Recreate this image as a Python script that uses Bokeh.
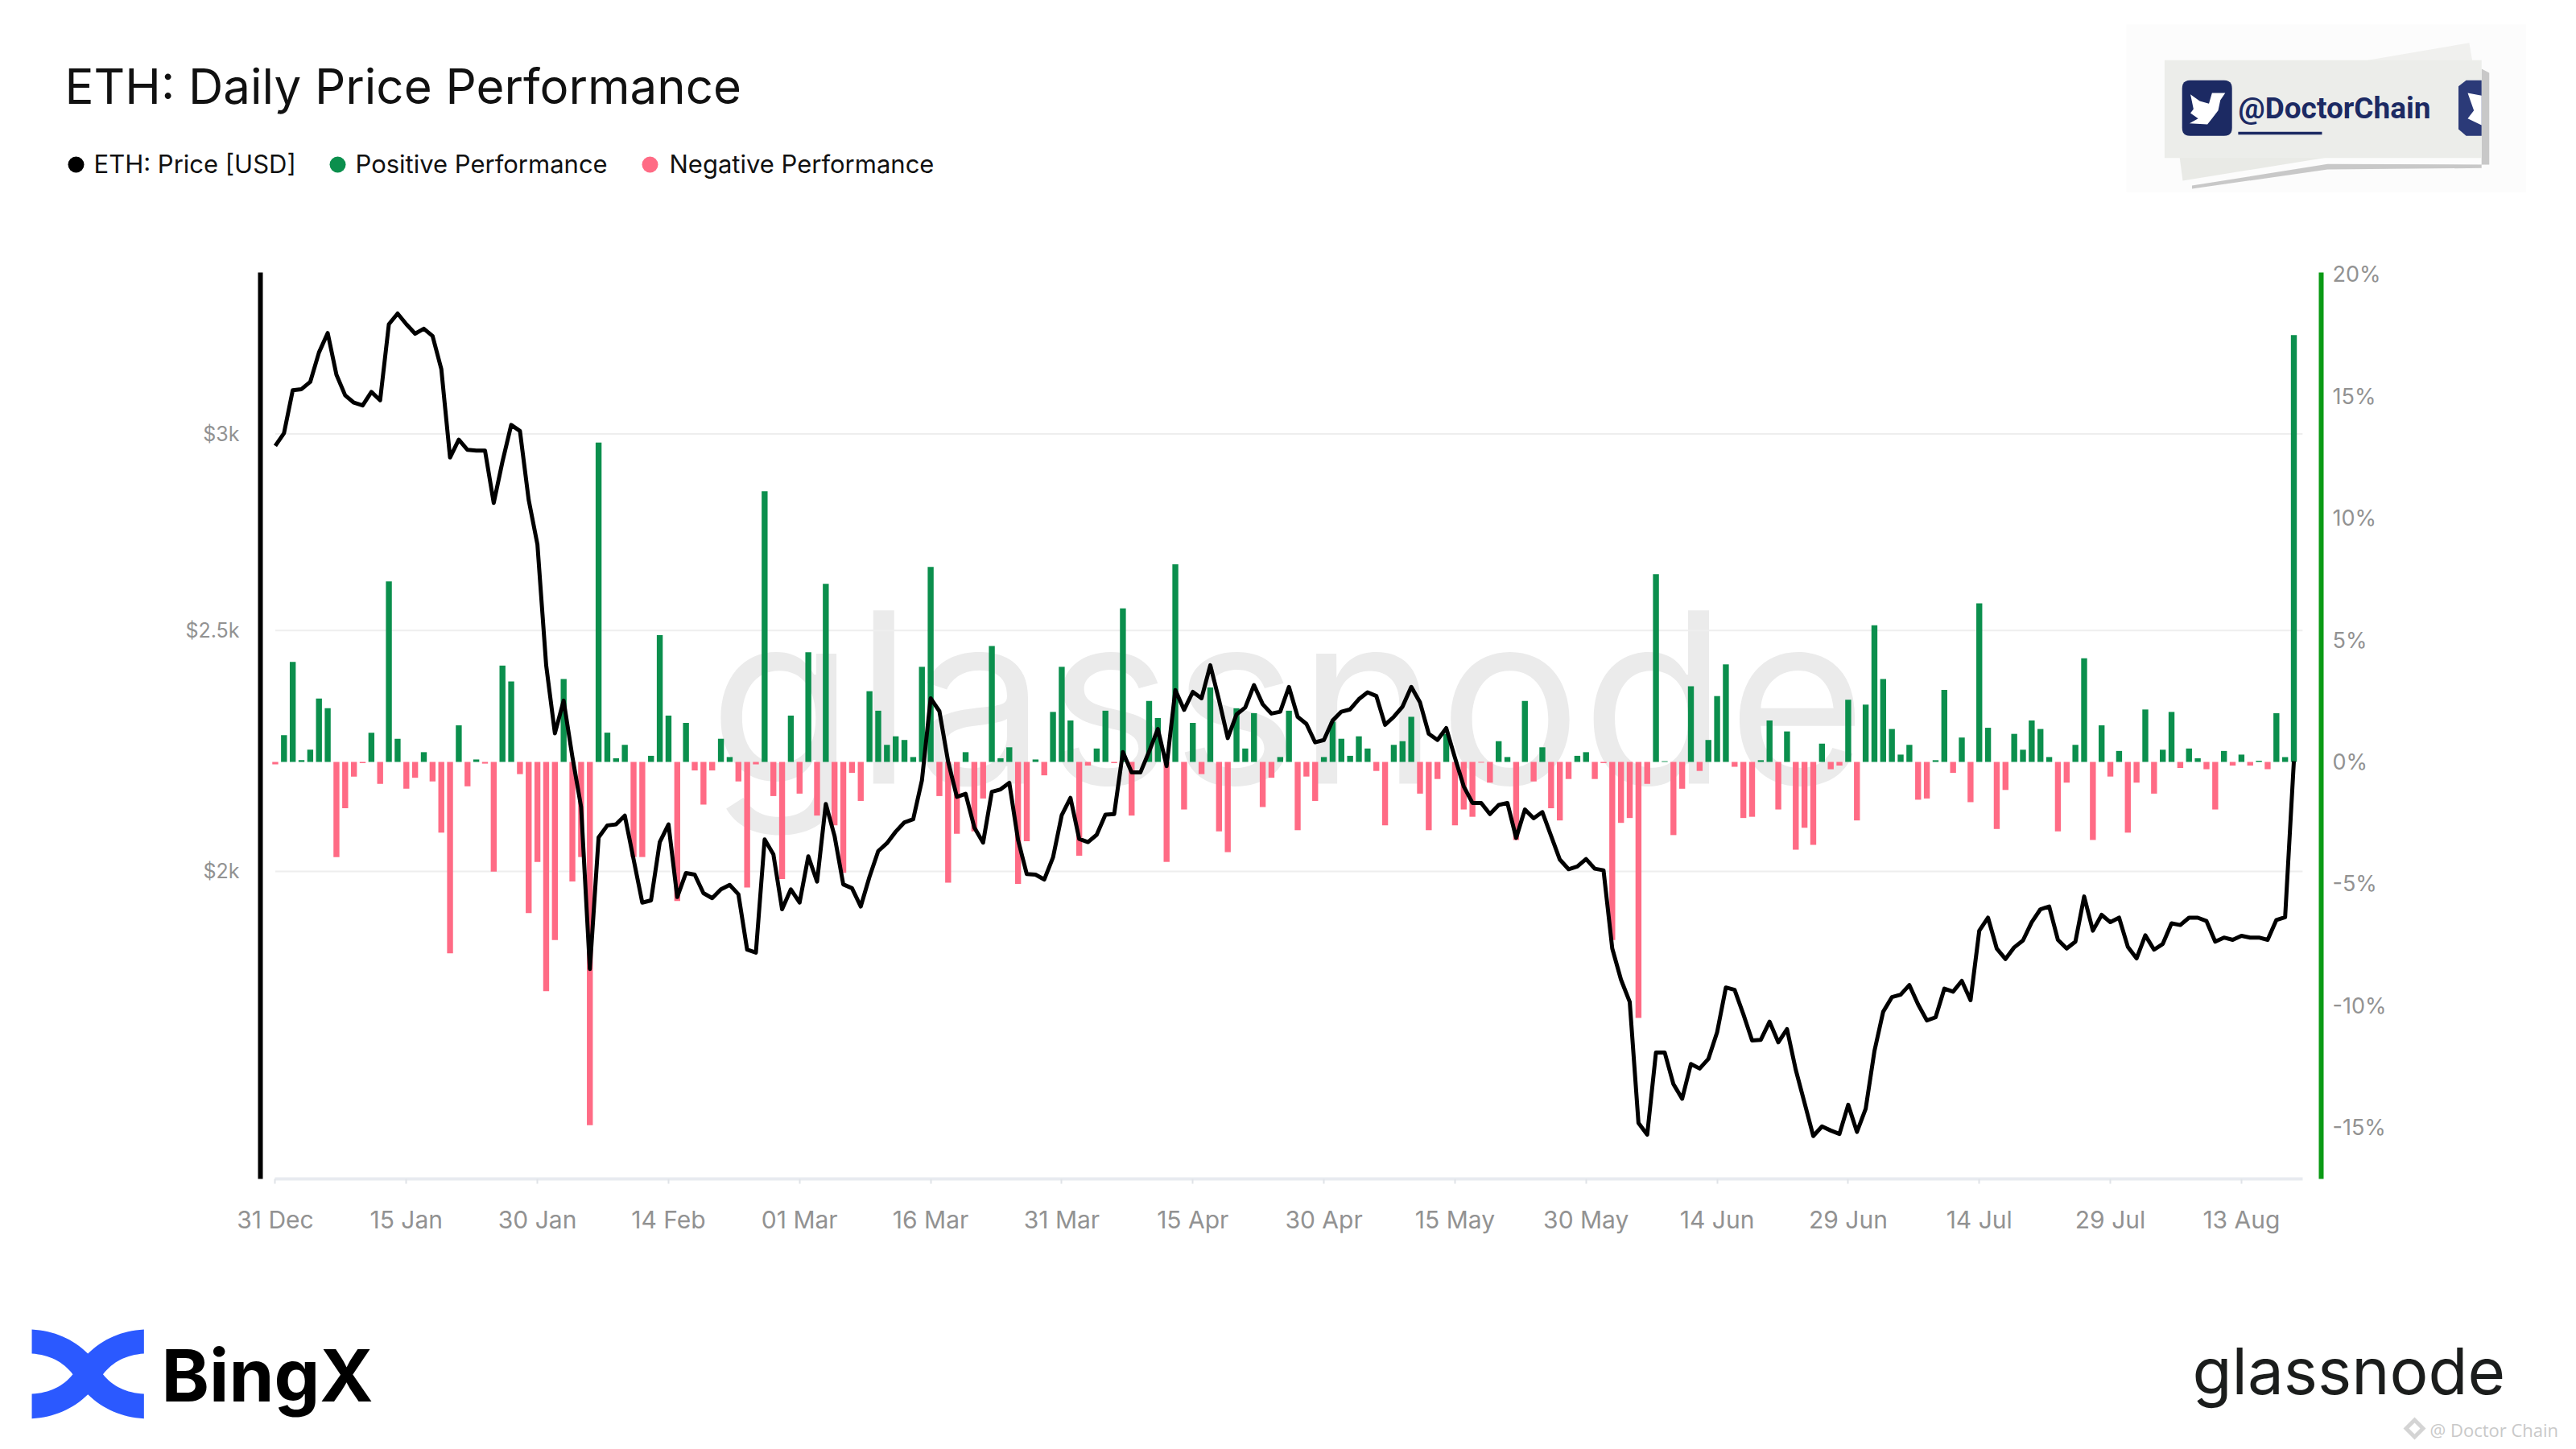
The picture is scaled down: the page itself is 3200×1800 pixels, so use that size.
from bokeh.plotting import figure
from bokeh.layouts import column
from bokeh.embed import file_html
from bokeh.resources import INLINE
from bokeh.core.properties import value
from bokeh.models import Range1d, LinearScale, LinearAxis, FixedTicker

TITLE = "ETH: Daily Price Performance"
SERIES = ["ETH: Price [USD]", "Positive Performance", "Negative Performance"]

price = [
    2967,3002,3124,3127,3148,3235,3294,3169,3109,3088,
    3080,3119,3095,3321,3354,3321,3292,3307,3285,3186,
    2935,2984,2956,2954,2954,2814,2924,3025,3008,2822,
    2708,2421,2273,2343,2224,2123,1827,2064,2087,2089,
    2106,2023,1943,1947,2055,2089,1953,1997,1994,1960,
    1951,1967,1975,1958,1860,1855,2060,2032,1931,1967,
    1943,2028,1981,2129,2067,1976,1969,1936,1990,2038,
    2053,2075,2093,2099,2176,2348,2320,2214,2143,2149,
    2083,2054,2153,2158,2171,2059,1995,1994,1985,2026,
    2107,2141,2061,2055,2069,2108,2109,2234,2192,2192,
    2235,2282,2205,2366,2323,2362,2348,2421,2344,2263,
    2313,2328,2377,2335,2315,2319,2373,2308,2293,2254,
    2259,2300,2319,2324,2346,2361,2353,2291,2308,2330,
    2373,2339,2272,2259,2284,2222,2164,2131,2131,2109,
    2127,2131,2063,2118,2101,2113,2067,2022,2004,2009,
    2023,2005,2002,1862,1809,1772,1584,1567,1691,1691,
    1642,1620,1673,1666,1681,1723,1796,1792,1752,1710,
    1711,1740,1707,1728,1664,1614,1565,1579,1573,1568,
    1611,1571,1605,1693,1756,1780,1784,1800,1768,1742,
    1747,1794,1789,1807,1775,1893,1916,1862,1844,1864,
    1876,1908,1931,1936,1877,1862,1874,1954,1893,1921,
    1908,1916,1865,1845,1885,1860,1870,1906,1903,1916,
    1916,1910,1874,1881,1877,1884,1881,1881,1877,1912,
    1917,2215,
]

performance = [
    -0.1,1.1,4.1,0.07,0.5,2.6,2.2,-3.9,-1.9,-0.6,
    -0.05,1.2,-0.9,7.4,0.95,-1.1,-0.65,0.4,-0.8,-2.9,
    -7.85,1.5,-1.0,0.1,-0.07,-4.5,3.95,3.3,-0.5,-6.2,
    -4.1,-9.4,-7.3,3.4,-4.9,-3.9,-14.9,13.1,1.2,0.15,
    0.7,-3.9,-3.9,0.25,5.2,1.9,-5.7,1.6,-0.35,-1.75,
    -0.35,0.95,0.2,-0.8,-5.15,-0.1,11.1,-1.4,-4.8,1.9,
    -1.3,4.5,-2.2,7.3,-2.6,-4.55,-0.45,-1.6,2.9,2.1,
    0.7,1.05,0.9,0.2,3.9,8.0,-1.4,-4.95,-2.95,0.4,
    -2.85,-1.5,4.75,0.15,0.6,-5.0,-3.25,0.1,-0.55,2.05,
    3.9,1.7,-3.85,-0.15,0.55,2.1,-0.05,6.3,-2.2,0.0,
    2.5,1.8,-4.1,8.1,-1.95,1.6,-0.5,3.05,-2.85,-3.7,
    2.2,0.55,2.0,-1.85,-0.65,0.2,2.1,-2.8,-0.6,-1.6,
    0.2,1.65,0.95,0.25,1.05,0.55,-0.37,-2.6,0.7,0.85,
    1.85,-1.3,-2.8,-0.7,1.15,-2.6,-1.95,-2.25,-0.03,-0.85,
    0.85,0.2,-3.2,2.5,-0.8,0.6,-1.9,-2.4,-0.7,0.25,
    0.4,-0.7,-0.05,-7.3,-2.5,-2.3,-10.5,-0.9,7.7,0.03,
    -3.0,-1.1,3.1,-0.37,0.9,2.7,4.0,-0.2,-2.3,-2.25,
    0.07,1.7,-1.95,1.25,-3.6,-2.7,-3.4,0.75,-0.3,-0.15,
    2.55,-2.4,2.35,5.6,3.4,1.35,0.3,0.7,-1.55,-1.5,
    0.07,2.95,-0.45,1.0,-1.65,6.5,1.4,-2.75,-1.15,1.15,
    0.5,1.7,1.35,0.2,-2.85,-0.85,0.7,4.25,-3.2,1.5,
    -0.6,0.45,-2.9,-0.85,2.15,-1.3,0.5,2.05,-0.25,0.55,
    0.15,-0.3,-1.95,0.45,-0.15,0.3,-0.15,0.05,-0.3,2.0,
    0.2,17.5,
]

date_ticks = [0, 15, 30, 45, 60, 75, 90, 105, 120, 135, 150, 165, 180, 195, 210, 225]
date_labels = ["31 Dec", "15 Jan", "30 Jan", "14 Feb", "01 Mar", "16 Mar", "31 Mar", "15 Apr",
               "30 Apr", "15 May", "30 May", "14 Jun", "29 Jun", "14 Jul", "29 Jul", "13 Aug"]
price_ticks = [2000, 2500, 3000]
price_labels = ["$2k", "$2.5k", "$3k"]
pct_ticks = [-15, -10, -5, 0, 5, 10, 15, 20]
pct_labels = ["-15%", "-10%", "-5%", "0%", "5%", "10%", "15%", "20%"]

BLACK, GREEN, PINK = "#000000", "#0b8f4d", "#ff6b85"
AXIS_GREEN = "#0a9a14"
TICK = "#929292"
FONT = "Inter"
W = 3190

days = list(range(len(price)))
pos = [(d, v) for d, v in zip(days, performance) if v >= 0]
neg = [(d, v) for d, v in zip(days, performance) if v < 0]


def strip(y0, y1):
    f = figure(width=W, height=y1 - y0, x_range=Range1d(0, W), y_range=Range1d(y1, y0),
               toolbar_location=None, output_backend="svg", min_border=0, frame_align=False,
               outline_line_color=None, background_fill_color="white", border_fill_color="white")
    f.axis.visible = False
    f.grid.visible = False
    return f


def poly(f, pts, color, alpha=1.0):
    f.patch([a for a, _ in pts], [b for _, b in pts], fill_color=color, fill_alpha=alpha, line_color=None)


def write(f, x, y, s, size, color, font=FONT, style="normal"):
    f.text([x], [y - 0.38 * size], text=[s], text_color=color, text_font=value(font), text_font_size=f"{size}px",
           text_font_style=style, text_baseline="alphabetic", text_align="left")


def bez(a, c, b, n=16):
    return [((1-t)**2*a[0]+2*(1-t)*t*c[0]+t*t*b[0], (1-t)**2*a[1]+2*(1-t)*t*c[1]+t*t*b[1])
            for t in [i/n for i in range(n+1)]]


# ---------- header ----------
head = strip(0, 300)
write(head, 80, 129, TITLE, 60, "#111111")
for cx, tx, col, s in [(94, 116, BLACK, SERIES[0]), (419, 441, GREEN, SERIES[1]), (807, 831, PINK, SERIES[2])]:
    head.scatter([cx], [204], size=20, marker="circle", fill_color=col, line_color=None)
    write(head, tx, 215, s, 31, "#111111")


def z6(x, y):
    return 2600 + x/2.613, y/3


PAPER, NAVY = "#ecedea", "#1c2a63"
poly(head, [z6(107,90), z6(1405,90), z6(1405,715), z6(107,715)], "#fcfcfc")
poly(head, [z6(320,690), z6(760,610), z6(1285,612), z6(1285,270), z6(1260,255), z6(1260,625), z6(760,630), z6(320,702)], "#8a8a8a", 0.45)
poly(head, [z6(280,585), z6(290,672), z6(760,585)], "#e9eae6")
poly(head, [z6(880,225), z6(1220,158), z6(1230,225)], "#f0f0ee")
poly(head, [z6(231,223), z6(1260,223), z6(1260,587), z6(231,587)], PAPER)


def rrect(x0, y0, x1, y1, rx=26, ry=30):
    return (bez(z6(x0, y0+ry), z6(x0, y0), z6(x0+rx, y0), 6) + bez(z6(x1-rx, y0), z6(x1, y0), z6(x1, y0+ry), 6) +
            bez(z6(x1, y1-ry), z6(x1, y1), z6(x1-rx, y1), 6) + bez(z6(x0+rx, y1), z6(x0, y1), z6(x0, y1-ry), 6))


poly(head, rrect(288, 298, 450, 505), NAVY)
poly(head, [z6(1210,298), z6(1260,298), z6(1260,505), z6(1210,505), z6(1185,480), z6(1185,320)], "#2b3a78")
bird = [(315,350),(345,375),(375,385),(385,345),(428,345),(412,372),(405,410),(385,440),(370,462),(312,458),(340,440),(315,420),(325,405)]
poly(head, [z6(a, b) for a, b in bird], "#ffffff")
poly(head, [z6(a, b) for a, b in [(1260,355),(1215,345),(1235,410),(1215,440),(1260,465)]], "#ffffff")
write(head, 2780, 148, "@DoctorChain", 37, NAVY, font="Roboto", style="bold")
poly(head, [z6(470,490), z6(742,490), z6(742,500), z6(470,500)], NAVY)

# ---------- chart ----------
p = figure(width=W, height=1260, frame_width=2560, frame_height=1126,
           y_axis_type="log", x_range=Range1d(-1.7, 234.13), y_range=Range1d(1504, 3484),
           toolbar_location=None, output_backend="svg", frame_align=False,
           min_border_left=323, min_border_right=307, min_border_top=38, min_border_bottom=96,
           outline_line_color=None, background_fill_color="white", border_fill_color="white")
p.extra_y_ranges = {"pct": Range1d(-17.1, 20.07)}
p.extra_y_scales = {"pct": LinearScale()}
p.xgrid.visible = False
p.ygrid.visible = False

xa = p.xaxis[0]
xa.ticker = FixedTicker(ticks=date_ticks)
xa.major_label_overrides = dict(zip(date_ticks, date_labels))
xa.bounds = (days[0], days[-1] + 1)
xa.axis_line_color = "#e8ebf0"
xa.axis_line_width = 4
xa.major_tick_line_color = "#e0e3e8"
xa.major_tick_line_width = 2
xa.major_tick_in = 0
xa.major_tick_out = 6
xa.minor_tick_line_color = None
xa.major_label_text_color = TICK
xa.major_label_text_font = FONT
xa.major_label_text_font_size = "30px"
xa.major_label_standoff = 26

ya = p.yaxis[0]
ya.ticker = FixedTicker(ticks=price_ticks)
ya.major_label_overrides = dict(zip(price_ticks, price_labels))
ya.axis_line_color = BLACK
ya.axis_line_width = 6
ya.major_tick_line_color = None
ya.minor_tick_line_color = None
ya.major_label_text_color = TICK
ya.major_label_text_font = FONT
ya.major_label_text_font_size = "25px"
ya.major_label_standoff = 20

ra = LinearAxis(y_range_name="pct", ticker=FixedTicker(ticks=pct_ticks))
ra.major_label_overrides = dict(zip(pct_ticks, pct_labels))
ra.axis_line_color = AXIS_GREEN
ra.axis_line_width = 6
ra.major_tick_line_color = None
ra.minor_tick_line_color = None
ra.major_label_text_color = TICK
ra.major_label_text_font = FONT
ra.major_label_text_font_size = "27px"
ra.major_label_standoff = 8
p.add_layout(ra, "right")

# watermark sits in the plot's own coordinates
p.text([49.6], [2.67], text=["glassnode"], y_range_name="pct", text_color="#ebebeb",
       text_font=value(FONT), text_font_size="296px", text_baseline="alphabetic",
       text_align="left", level="underlay")
p.segment(x0=[days[0]] * 3, x1=[days[-1] + 1] * 3, y0=price_ticks, y1=price_ticks,
          line_color="#eeeeee", line_width=2, level="underlay")

p.vbar(x=[d for d, _ in pos], top=[v for _, v in pos], bottom=0, width=0.68,
       fill_color=GREEN, line_color=None, y_range_name="pct")
p.vbar(x=[d for d, _ in neg], top=0, bottom=[v for _, v in neg], width=0.68,
       fill_color=PINK, line_color=None, y_range_name="pct")
p.line(days, price, line_color=BLACK, line_width=5, line_join="round")

# ---------- footer ----------
foot = strip(1560, 1790)


def z7(x, y):
    return x/2.613, 1600 + y/3


outline = (bez(z7(102,153), z7(210,160), z7(284,243)) + bez(z7(284,243), z7(358,160), z7(466,153)) +
           [z7(466,243)] + bez(z7(466,243), z7(380,250), z7(333,320)) + bez(z7(333,320), z7(380,388), z7(466,393)) +
           [z7(466,485)] + bez(z7(466,485), z7(358,478), z7(284,395)) + bez(z7(284,395), z7(210,478), z7(102,485)) +
           [z7(102,393)] + bez(z7(102,393), z7(188,388), z7(235,320)) + bez(z7(235,320), z7(188,250), z7(102,243)))
poly(foot, outline, "#2b59ff")
write(foot, 200, 1742, "BingX", 90, "#000000", style="bold")
write(foot, 2723, 1732, "glassnode", 80, "#1b1d1c")
write(foot, 3018, 1784, "@ Doctor Chain", 22, "#c9c9c9", font="Open Sans")
dx, dy = 2999, 1774
poly(foot, [(dx-14, dy), (dx, dy-14), (dx+14, dy), (dx, dy+14)], "#d4d4d4")
poly(foot, [(dx-7, dy), (dx, dy-7), (dx+7, dy), (dx, dy+7)], "#ffffff")

page = column(head, p, foot, spacing=0)
page.margin = 0
open("out.html", "w").write(file_html(page, INLINE))
